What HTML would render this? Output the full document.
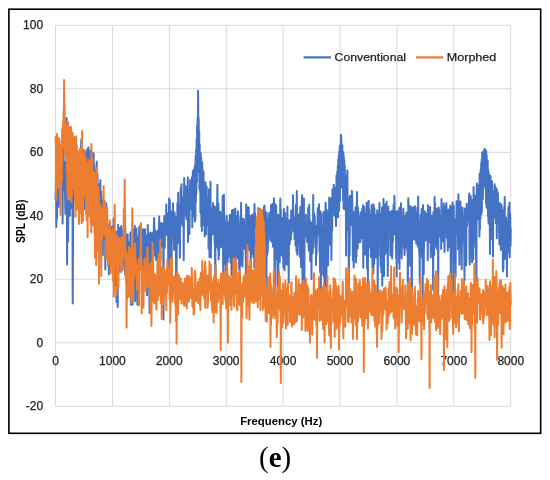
<!DOCTYPE html>
<html><head><meta charset="utf-8"><style>
html,body{margin:0;padding:0;background:#fff;}
body{width:550px;height:480px;overflow:hidden;position:relative;}
svg{position:absolute;left:0;top:0;}
.g line{stroke:#d9d9d9;stroke-width:1;}
.yl text{font-family:"Liberation Sans",sans-serif;font-size:12px;fill:#222;stroke:#222;stroke-width:0.25px;text-anchor:end;}
.xl text{font-family:"Liberation Sans",sans-serif;font-size:12px;fill:#222;stroke:#222;stroke-width:0.25px;text-anchor:middle;}
.lg{font-family:"Liberation Sans",sans-serif;font-size:11.3px;fill:#222;stroke:#222;stroke-width:0.25px;}
.at{font-family:"Liberation Sans",sans-serif;font-size:11.6px;font-weight:bold;fill:#000;}
.at2{font-family:"Liberation Sans",sans-serif;font-size:12px;font-weight:bold;fill:#000;}
.cap{font-family:"Liberation Serif",serif;font-size:29px;fill:#000;}
</style></head><body>
<svg width="550" height="480" viewBox="0 0 550 480">
<rect x="8.9" y="9.2" width="531.75" height="424.1" fill="#fff" stroke="#000" stroke-width="1.6"/>
<g class="g"><line x1="55.50" y1="25.30" x2="55.50" y2="406.30"/><line x1="112.41" y1="25.30" x2="112.41" y2="406.30"/><line x1="169.31" y1="25.30" x2="169.31" y2="406.30"/><line x1="226.22" y1="25.30" x2="226.22" y2="406.30"/><line x1="283.12" y1="25.30" x2="283.12" y2="406.30"/><line x1="340.03" y1="25.30" x2="340.03" y2="406.30"/><line x1="396.94" y1="25.30" x2="396.94" y2="406.30"/><line x1="453.84" y1="25.30" x2="453.84" y2="406.30"/><line x1="510.75" y1="25.30" x2="510.75" y2="406.30"/><line x1="55.50" y1="406.30" x2="510.75" y2="406.30"/><line x1="55.50" y1="342.80" x2="510.75" y2="342.80"/><line x1="55.50" y1="279.30" x2="510.75" y2="279.30"/><line x1="55.50" y1="215.80" x2="510.75" y2="215.80"/><line x1="55.50" y1="152.30" x2="510.75" y2="152.30"/><line x1="55.50" y1="88.80" x2="510.75" y2="88.80"/><line x1="55.50" y1="25.30" x2="510.75" y2="25.30"/></g>
<g class="yl"><text x="43.1" y="410.1">-20</text><text x="43.1" y="346.6">0</text><text x="43.1" y="283.1">20</text><text x="43.1" y="219.6">40</text><text x="43.1" y="156.1">60</text><text x="43.1" y="92.6">80</text><text x="43.1" y="29.1">100</text></g>
<g class="xl"><text x="55.5" y="364.5">0</text><text x="112.4" y="364.5">1000</text><text x="169.3" y="364.5">2000</text><text x="226.2" y="364.5">3000</text><text x="283.1" y="364.5">4000</text><text x="340.0" y="364.5">5000</text><text x="396.9" y="364.5">6000</text><text x="453.8" y="364.5">7000</text><text x="510.8" y="364.5">8000</text></g>
<polyline fill="none" stroke="#4472c4" stroke-width="2.0" stroke-linejoin="round" points="55.5,199.9 55.8,185.0 56.0,172.1 56.3,227.0 56.5,210.6 56.8,150.4 57.0,218.6 57.3,201.6 57.5,193.9 57.8,178.5 58.0,190.5 58.3,175.5 58.5,171.4 58.8,206.7 59.0,164.5 59.3,165.6 59.5,153.3 59.8,151.6 60.1,160.4 60.3,164.6 60.6,180.3 60.8,179.1 61.1,176.3 61.3,169.9 61.6,153.3 61.8,170.4 62.1,162.6 62.3,143.4 62.6,223.4 62.8,178.7 63.1,164.7 63.3,185.0 63.6,146.2 63.8,177.6 64.1,182.8 64.4,161.4 64.6,190.4 64.9,174.0 65.1,198.0 65.4,213.8 65.6,184.1 65.9,182.0 66.1,163.1 66.4,168.6 66.6,118.0 66.9,175.8 67.1,264.6 67.4,185.6 67.6,188.4 67.9,214.2 68.1,241.8 68.4,190.0 68.7,147.1 68.9,175.9 69.2,167.6 69.4,191.1 69.7,196.3 69.9,215.7 70.2,168.6 70.4,174.7 70.7,178.2 70.9,162.6 71.2,207.9 71.4,187.2 71.7,166.0 71.9,155.2 72.2,207.6 72.4,146.3 72.7,303.4 73.0,241.8 73.2,211.7 73.5,201.4 73.7,161.4 74.0,167.4 74.2,141.7 74.5,192.5 74.7,187.0 75.0,165.1 75.2,173.3 75.5,164.5 75.7,189.4 76.0,171.5 76.2,197.2 76.5,145.9 76.7,209.3 77.0,197.4 77.3,165.0 77.5,208.1 77.8,157.9 78.0,165.2 78.3,152.2 78.5,162.4 78.8,169.9 79.0,187.2 79.3,153.7 79.5,181.4 79.8,168.6 80.0,187.0 80.3,157.3 80.5,170.9 80.8,158.3 81.0,148.7 81.3,139.6 81.6,160.6 81.8,173.4 82.1,158.3 82.3,167.1 82.6,184.2 82.8,207.0 83.1,149.9 83.3,176.9 83.6,185.1 83.8,155.4 84.1,191.7 84.3,155.5 84.6,170.9 84.8,209.0 85.1,206.7 85.3,151.6 85.6,168.2 85.9,197.0 86.1,175.6 86.4,206.5 86.6,195.3 86.9,203.2 87.1,153.1 87.4,149.1 87.6,208.5 87.9,203.8 88.1,195.2 88.4,147.3 88.6,150.2 88.9,166.3 89.1,203.9 89.4,187.4 89.6,172.9 89.9,190.2 90.1,190.5 90.4,215.0 90.7,150.6 90.9,162.0 91.2,150.8 91.4,182.8 91.7,183.1 91.9,152.7 92.2,180.7 92.4,193.7 92.7,169.0 92.9,208.9 93.2,183.3 93.4,159.7 93.7,153.3 93.9,210.1 94.2,165.2 94.4,190.3 94.7,170.3 95.0,201.5 95.2,183.8 95.5,177.7 95.7,182.9 96.0,209.8 96.2,215.7 96.5,198.0 96.7,161.6 97.0,225.5 97.2,198.5 97.5,174.3 97.7,237.1 98.0,198.1 98.2,215.7 98.5,210.1 98.7,201.3 99.0,218.5 99.3,184.1 99.5,208.3 99.8,196.3 100.0,230.5 100.3,180.2 100.5,207.3 100.8,253.5 101.0,191.4 101.3,196.9 101.5,200.3 101.8,217.8 102.0,199.4 102.3,212.4 102.5,210.7 102.8,255.3 103.0,225.9 103.3,226.2 103.6,216.8 103.8,207.4 104.1,221.0 104.3,222.2 104.6,233.2 104.8,239.1 105.1,231.2 105.3,269.5 105.6,234.3 105.8,220.2 106.1,228.2 106.3,203.3 106.6,244.6 106.8,217.6 107.1,230.7 107.3,228.3 107.6,238.3 107.9,249.8 108.1,229.6 108.4,224.5 108.6,236.2 108.9,274.5 109.1,261.9 109.4,231.3 109.6,225.4 109.9,272.0 110.1,229.6 110.4,228.4 110.6,255.4 110.9,230.6 111.1,240.0 111.4,234.2 111.6,226.8 111.9,261.8 112.2,266.2 112.4,228.9 112.7,256.7 112.9,244.5 113.2,226.2 113.4,238.6 113.7,218.7 113.9,276.5 114.2,271.1 114.4,251.2 114.7,239.1 114.9,272.4 115.2,285.0 115.4,253.6 115.7,250.8 115.9,231.2 116.2,253.3 116.5,302.1 116.7,266.2 117.0,254.7 117.2,240.6 117.5,239.1 117.7,306.9 118.0,243.8 118.2,224.7 118.5,256.4 118.7,264.9 119.0,245.3 119.2,253.6 119.5,234.2 119.7,272.1 120.0,243.6 120.2,227.9 120.5,247.0 120.8,250.8 121.0,260.1 121.3,225.9 121.5,243.7 121.8,229.0 122.0,230.8 122.3,231.9 122.5,269.8 122.8,264.0 123.0,237.6 123.3,255.4 123.5,258.3 123.8,239.4 124.0,246.9 124.3,254.4 124.5,253.8 124.8,255.6 125.1,274.8 125.3,225.4 125.6,239.3 125.8,261.7 126.1,258.5 126.3,241.9 126.6,247.2 126.8,276.9 127.1,297.9 127.3,249.5 127.6,234.3 127.8,243.8 128.1,242.7 128.3,241.7 128.6,245.2 128.8,248.2 129.1,243.7 129.4,261.9 129.6,258.2 129.9,265.8 130.1,279.5 130.4,232.5 130.6,251.1 130.9,304.7 131.1,254.4 131.4,238.3 131.6,258.6 131.9,258.6 132.1,237.8 132.4,270.8 132.6,304.7 132.9,229.7 133.1,262.7 133.4,245.0 133.7,244.1 133.9,262.6 134.2,282.8 134.4,276.1 134.7,225.8 134.9,250.7 135.2,301.2 135.4,248.8 135.7,240.2 135.9,246.2 136.2,238.6 136.4,228.6 136.7,238.6 136.9,259.0 137.2,252.9 137.4,304.7 137.7,244.6 138.0,242.3 138.2,240.2 138.5,283.4 138.7,236.6 139.0,238.6 139.2,226.7 139.5,252.3 139.7,242.6 140.0,230.4 140.2,255.6 140.5,262.0 140.7,223.9 141.0,236.6 141.2,240.6 141.5,242.7 141.7,243.3 142.0,248.4 142.3,292.8 142.5,246.8 142.8,238.0 143.0,229.3 143.3,260.2 143.5,260.9 143.8,241.2 144.0,271.4 144.3,235.5 144.5,269.5 144.8,246.8 145.0,229.2 145.3,254.8 145.5,261.3 145.8,240.3 146.0,235.3 146.3,242.2 146.6,285.2 146.8,253.0 147.1,295.3 147.3,236.1 147.6,279.8 147.8,224.9 148.1,245.1 148.3,257.1 148.6,234.5 148.8,241.6 149.1,239.6 149.3,286.7 149.6,313.0 149.8,304.7 150.1,261.6 150.3,232.5 150.6,235.5 150.8,247.5 151.1,263.4 151.4,235.2 151.6,278.6 151.9,233.2 152.1,235.9 152.4,254.8 152.6,235.2 152.9,242.3 153.1,232.5 153.4,245.1 153.6,255.7 153.9,223.5 154.1,218.1 154.4,227.3 154.6,255.6 154.9,230.2 155.1,242.0 155.4,246.6 155.7,231.6 155.9,254.5 156.2,260.0 156.4,251.1 156.7,237.9 156.9,235.4 157.2,256.2 157.4,234.7 157.7,230.4 157.9,256.0 158.2,239.0 158.4,263.0 158.7,246.0 158.9,232.1 159.2,216.6 159.4,230.2 159.7,248.5 160.0,232.7 160.2,243.8 160.5,259.9 160.7,225.2 161.0,223.1 161.2,229.8 161.5,246.4 161.7,236.1 162.0,227.9 162.2,238.5 162.5,228.6 162.7,223.8 163.0,238.1 163.2,226.6 163.5,319.6 163.7,228.5 164.0,232.6 164.3,216.0 164.5,244.4 164.8,247.8 165.0,227.9 165.3,233.6 165.5,216.6 165.8,225.9 166.0,234.9 166.3,204.6 166.5,233.8 166.8,224.7 167.0,218.3 167.3,220.0 167.5,213.4 167.8,230.8 168.0,220.8 168.3,275.4 168.6,217.4 168.8,235.9 169.1,198.6 169.3,261.6 169.6,206.0 169.8,200.1 170.1,232.4 170.3,244.8 170.6,240.6 170.8,257.3 171.1,244.8 171.3,241.6 171.6,279.9 171.8,211.5 172.1,229.0 172.3,229.4 172.6,225.8 172.9,203.3 173.1,212.0 173.4,231.6 173.6,224.7 173.9,241.4 174.1,250.0 174.4,240.7 174.6,212.5 174.9,227.4 175.1,249.6 175.4,238.4 175.6,225.9 175.9,217.1 176.1,280.8 176.4,292.5 176.6,263.5 176.9,222.8 177.2,243.5 177.4,203.0 177.7,209.3 177.9,240.6 178.2,192.7 178.4,241.3 178.7,221.0 178.9,204.5 179.2,217.6 179.4,243.3 179.7,245.7 179.9,257.7 180.2,223.3 180.4,207.0 180.7,187.9 180.9,208.5 181.2,214.5 181.5,184.3 181.7,212.5 182.0,198.6 182.2,221.2 182.5,225.6 182.7,208.8 183.0,221.2 183.2,197.4 183.5,205.0 183.7,260.2 184.0,200.6 184.2,178.0 184.5,208.1 184.7,186.6 185.0,212.4 185.2,186.0 185.5,206.1 185.8,212.5 186.0,216.1 186.3,187.1 186.5,219.2 186.8,194.6 187.0,187.1 187.3,202.4 187.5,194.3 187.8,177.3 188.0,242.0 188.3,229.9 188.5,224.5 188.8,193.1 189.0,197.4 189.3,193.6 189.5,233.9 189.8,198.7 190.1,180.3 190.3,187.8 190.6,186.1 190.8,208.9 191.1,196.4 191.3,195.0 191.6,198.3 191.8,177.3 192.1,186.8 192.3,227.2 192.6,183.6 192.8,171.1 193.1,216.3 193.3,185.0 193.6,170.7 193.8,204.4 194.1,169.7 194.4,201.6 194.6,167.2 194.9,221.4 195.1,164.4 195.4,218.9 195.6,156.1 195.9,202.1 196.1,150.1 196.4,193.5 196.6,139.0 196.9,182.2 197.1,125.4 197.4,150.9 197.6,117.6 197.9,148.2 198.1,90.7 198.4,144.6 198.7,118.6 198.9,172.6 199.2,131.3 199.4,189.0 199.7,144.8 199.9,191.1 200.2,153.4 200.4,212.7 200.7,153.1 200.9,202.1 201.2,157.3 201.4,226.7 201.7,163.1 201.9,230.9 202.2,162.4 202.4,214.8 202.7,203.2 203.0,183.7 203.2,225.1 203.5,171.3 203.7,203.4 204.0,195.7 204.2,193.2 204.5,202.9 204.7,236.6 205.0,214.6 205.2,211.6 205.5,182.3 205.7,219.0 206.0,234.2 206.2,216.8 206.5,199.8 206.7,186.8 207.0,211.0 207.3,197.8 207.5,209.0 207.8,225.2 208.0,208.6 208.3,203.7 208.5,248.5 208.8,215.4 209.0,189.3 209.3,227.0 209.5,257.1 209.8,239.3 210.0,225.8 210.3,232.1 210.5,181.7 210.8,257.5 211.0,245.4 211.3,208.0 211.5,212.1 211.8,216.0 212.1,226.4 212.3,234.5 212.6,215.6 212.8,233.6 213.1,202.9 213.3,213.3 213.6,227.7 213.8,220.8 214.1,213.3 214.3,206.3 214.6,242.7 214.8,237.4 215.1,254.7 215.3,288.6 215.6,207.3 215.8,213.9 216.1,224.1 216.4,215.8 216.6,213.0 216.9,247.1 217.1,204.9 217.4,184.7 217.6,208.8 217.9,211.6 218.1,249.7 218.4,203.5 218.6,259.5 218.9,231.1 219.1,255.5 219.4,217.6 219.6,232.4 219.9,237.4 220.1,232.0 220.4,211.7 220.7,229.0 220.9,247.3 221.2,239.0 221.4,243.3 221.7,215.4 221.9,219.7 222.2,221.1 222.4,227.9 222.7,196.0 222.9,231.9 223.2,273.6 223.4,232.9 223.7,224.0 223.9,194.7 224.2,264.1 224.4,228.5 224.7,226.0 225.0,245.8 225.2,257.3 225.5,238.4 225.7,291.2 226.0,269.6 226.2,222.0 226.5,215.7 226.7,217.2 227.0,224.0 227.2,264.8 227.5,221.4 227.7,262.1 228.0,227.8 228.2,246.2 228.5,232.8 228.7,256.6 229.0,245.7 229.3,223.4 229.5,232.9 229.8,215.1 230.0,247.5 230.3,233.5 230.5,262.4 230.8,240.2 231.0,214.8 231.3,215.5 231.5,275.5 231.8,231.1 232.0,210.2 232.3,226.9 232.5,218.8 232.8,276.5 233.0,236.3 233.3,209.8 233.6,247.2 233.8,261.5 234.1,233.0 234.3,240.5 234.6,253.8 234.8,244.1 235.1,222.5 235.3,208.6 235.6,280.0 235.8,238.4 236.1,239.1 236.3,230.1 236.6,222.1 236.8,236.0 237.1,215.9 237.3,258.2 237.6,220.8 237.9,211.3 238.1,213.2 238.4,257.1 238.6,224.5 238.9,237.3 239.1,268.2 239.4,225.9 239.6,278.9 239.9,254.6 240.1,250.9 240.4,217.1 240.6,224.8 240.9,224.4 241.1,202.8 241.4,264.7 241.6,232.3 241.9,265.6 242.2,218.8 242.4,266.4 242.7,253.5 242.9,236.6 243.2,225.8 243.4,236.9 243.7,235.6 243.9,219.0 244.2,245.0 244.4,226.7 244.7,245.8 244.9,249.3 245.2,235.4 245.4,242.9 245.7,251.5 245.9,276.7 246.2,204.3 246.5,229.6 246.7,231.4 247.0,274.5 247.2,207.2 247.5,248.6 247.7,232.3 248.0,232.5 248.2,211.1 248.5,237.8 248.7,207.2 249.0,237.0 249.2,215.5 249.5,250.5 249.7,223.2 250.0,222.5 250.2,237.6 250.5,233.1 250.8,283.8 251.0,216.0 251.3,228.4 251.5,238.5 251.8,242.0 252.0,214.9 252.3,253.8 252.5,245.1 252.8,249.3 253.0,241.2 253.3,253.3 253.5,257.1 253.8,213.2 254.0,224.2 254.3,267.4 254.5,204.1 254.8,221.7 255.1,213.6 255.3,229.0 255.6,239.6 255.8,242.6 256.1,234.1 256.3,232.7 256.6,237.7 256.8,220.7 257.1,228.9 257.3,251.1 257.6,243.2 257.8,256.1 258.1,233.2 258.3,208.0 258.6,226.5 258.8,246.8 259.1,243.5 259.4,244.9 259.6,288.2 259.9,213.0 260.1,212.7 260.4,235.3 260.6,246.7 260.9,246.8 261.1,227.2 261.4,242.4 261.6,217.7 261.9,220.2 262.1,215.1 262.4,220.3 262.6,236.8 262.9,253.2 263.1,295.1 263.4,216.0 263.7,229.5 263.9,207.3 264.2,214.7 264.4,205.4 264.7,211.6 264.9,276.4 265.2,253.2 265.4,234.9 265.7,225.6 265.9,212.0 266.2,243.9 266.4,304.7 266.7,213.0 266.9,230.8 267.2,255.0 267.4,219.0 267.7,252.3 267.9,242.5 268.2,242.0 268.5,222.2 268.7,226.2 269.0,219.8 269.2,213.1 269.5,224.2 269.7,235.8 270.0,224.1 270.2,212.5 270.5,240.2 270.7,230.8 271.0,205.2 271.2,208.7 271.5,231.7 271.7,225.9 272.0,242.2 272.2,231.8 272.5,203.7 272.8,216.1 273.0,246.7 273.3,206.8 273.5,225.7 273.8,237.7 274.0,198.3 274.3,243.1 274.5,269.5 274.8,304.7 275.0,229.4 275.3,204.5 275.5,212.8 275.8,259.6 276.0,205.3 276.3,215.6 276.5,222.0 276.8,222.6 277.1,247.0 277.3,229.3 277.6,304.7 277.8,282.0 278.1,214.8 278.3,284.2 278.6,215.8 278.8,232.5 279.1,222.1 279.3,249.7 279.6,243.5 279.8,262.1 280.1,225.8 280.3,198.6 280.6,221.2 280.8,209.7 281.1,250.6 281.4,234.4 281.6,255.2 281.9,224.0 282.1,218.1 282.4,243.7 282.6,225.1 282.9,257.7 283.1,237.4 283.4,267.5 283.6,228.9 283.9,208.9 284.1,223.9 284.4,261.4 284.6,270.2 284.9,221.9 285.1,213.0 285.4,247.0 285.7,253.3 285.9,261.0 286.2,219.0 286.4,227.8 286.7,264.5 286.9,222.1 287.2,256.2 287.4,206.5 287.7,247.8 287.9,232.1 288.2,228.8 288.4,229.6 288.7,283.1 288.9,242.0 289.2,237.8 289.4,219.9 289.7,244.3 290.0,234.2 290.2,227.1 290.5,230.9 290.7,222.2 291.0,239.4 291.2,210.4 291.5,233.4 291.7,223.7 292.0,221.7 292.2,213.7 292.5,225.9 292.7,226.3 293.0,195.3 293.2,213.9 293.5,227.5 293.7,231.1 294.0,231.3 294.3,219.9 294.5,239.3 294.8,222.8 295.0,218.4 295.3,217.3 295.5,245.5 295.8,209.7 296.0,204.6 296.3,210.6 296.5,251.7 296.8,191.0 297.0,243.6 297.3,254.8 297.5,241.3 297.8,223.8 298.0,242.5 298.3,223.8 298.6,233.6 298.8,214.7 299.1,223.2 299.3,213.9 299.6,246.4 299.8,256.8 300.1,228.1 300.3,207.0 300.6,216.7 300.8,211.5 301.1,267.2 301.3,223.9 301.6,236.0 301.8,205.4 302.1,195.3 302.3,256.4 302.6,290.1 302.9,219.7 303.1,222.5 303.4,212.5 303.6,228.3 303.9,198.5 304.1,304.7 304.4,280.3 304.6,223.9 304.9,225.4 305.1,228.9 305.4,219.5 305.6,230.6 305.9,214.7 306.1,234.7 306.4,236.9 306.6,234.2 306.9,225.5 307.2,241.9 307.4,237.0 307.7,238.5 307.9,230.1 308.2,208.0 308.4,230.1 308.7,250.6 308.9,218.3 309.2,204.8 309.4,229.1 309.7,219.6 309.9,229.3 310.2,261.3 310.4,257.9 310.7,222.0 310.9,232.4 311.2,244.8 311.5,279.0 311.7,225.5 312.0,250.5 312.2,222.3 312.5,240.9 312.7,253.2 313.0,241.7 313.2,195.1 313.5,247.4 313.7,242.1 314.0,221.2 314.2,213.2 314.5,232.5 314.7,216.3 315.0,232.4 315.2,237.1 315.5,225.8 315.8,233.3 316.0,264.9 316.3,239.4 316.5,254.8 316.8,243.9 317.0,231.7 317.3,236.0 317.5,221.2 317.8,208.1 318.0,223.1 318.3,219.4 318.5,222.1 318.8,233.4 319.0,204.2 319.3,216.6 319.5,250.8 319.8,251.8 320.1,272.3 320.3,221.7 320.6,211.4 320.8,304.7 321.1,219.8 321.3,213.7 321.6,274.7 321.8,244.6 322.1,265.1 322.3,227.5 322.6,232.2 322.8,226.9 323.1,251.4 323.3,259.0 323.6,211.9 323.8,276.8 324.1,251.2 324.4,256.9 324.6,304.7 324.9,228.9 325.1,233.2 325.4,227.2 325.6,202.8 325.9,213.2 326.1,229.4 326.4,296.6 326.6,237.7 326.9,210.2 327.1,225.0 327.4,223.8 327.6,238.1 327.9,226.4 328.1,265.4 328.4,241.8 328.6,213.3 328.9,229.3 329.2,197.6 329.4,214.1 329.7,221.1 329.9,216.8 330.2,244.4 330.4,231.2 330.7,226.0 330.9,222.1 331.2,198.3 331.4,260.1 331.7,224.3 331.9,210.5 332.2,230.8 332.4,189.6 332.7,215.4 332.9,196.7 333.2,213.7 333.5,199.6 333.7,184.8 334.0,209.4 334.2,214.4 334.5,203.8 334.7,203.7 335.0,216.1 335.2,187.7 335.5,190.0 335.7,209.3 336.0,225.9 336.2,209.8 336.5,175.6 336.7,179.0 337.0,197.7 337.2,171.8 337.5,213.3 337.8,165.5 338.0,217.2 338.3,159.2 338.5,190.0 338.8,154.5 339.0,210.8 339.3,150.7 339.5,181.6 339.8,145.7 340.0,200.5 340.3,149.0 340.5,185.5 340.8,143.6 341.0,134.8 341.3,138.5 341.5,187.6 341.8,144.5 342.1,180.7 342.3,145.6 342.6,178.6 342.8,155.4 343.1,200.4 343.3,152.0 343.6,208.6 343.8,156.3 344.1,209.3 344.3,160.6 344.6,208.3 344.8,165.7 345.1,204.6 345.3,188.4 345.6,201.6 345.8,184.8 346.1,255.5 346.4,176.3 346.6,198.7 346.9,186.7 347.1,176.5 347.4,170.2 347.6,220.3 347.9,229.8 348.1,198.8 348.4,198.6 348.6,248.8 348.9,290.9 349.1,220.4 349.4,202.0 349.6,255.4 349.9,195.8 350.1,218.5 350.4,204.2 350.7,207.9 350.9,220.4 351.2,224.7 351.4,220.1 351.7,215.0 351.9,190.8 352.2,194.9 352.4,221.3 352.7,235.7 352.9,260.4 353.2,232.6 353.4,212.1 353.7,267.4 353.9,225.7 354.2,248.6 354.4,230.6 354.7,234.4 355.0,218.2 355.2,236.6 355.5,207.4 355.7,252.1 356.0,262.5 356.2,239.6 356.5,256.5 356.7,218.1 357.0,192.0 357.2,237.4 357.5,211.7 357.7,248.4 358.0,207.2 358.2,218.1 358.5,221.3 358.7,232.7 359.0,231.0 359.3,216.7 359.5,223.7 359.8,242.6 360.0,220.4 360.3,242.0 360.5,212.6 360.8,212.3 361.0,233.0 361.3,218.1 361.5,238.3 361.8,214.1 362.0,214.6 362.3,208.5 362.5,208.2 362.8,215.1 363.0,205.2 363.3,267.8 363.6,211.4 363.8,250.6 364.1,207.1 364.3,220.5 364.6,218.0 364.8,224.2 365.1,254.4 365.3,216.0 365.6,213.7 365.8,217.3 366.1,254.6 366.3,218.3 366.6,202.8 366.8,228.0 367.1,268.8 367.3,247.1 367.6,233.0 367.9,282.7 368.1,215.7 368.4,246.2 368.6,200.7 368.9,229.7 369.1,209.1 369.4,214.3 369.6,247.6 369.9,247.4 370.1,215.6 370.4,232.4 370.6,240.0 370.9,256.9 371.1,226.5 371.4,240.9 371.6,205.3 371.9,233.5 372.2,207.5 372.4,267.6 372.7,223.8 372.9,235.8 373.2,204.2 373.4,273.6 373.7,204.9 373.9,231.0 374.2,263.9 374.4,208.2 374.7,251.0 374.9,226.0 375.2,223.1 375.4,241.3 375.7,215.0 375.9,250.5 376.2,257.7 376.5,247.8 376.7,232.1 377.0,237.6 377.2,210.3 377.5,226.0 377.7,292.4 378.0,231.8 378.2,255.9 378.5,214.1 378.7,219.0 379.0,214.8 379.2,225.3 379.5,202.9 379.7,230.8 380.0,229.4 380.2,227.5 380.5,265.8 380.8,222.0 381.0,213.6 381.3,272.6 381.5,221.4 381.8,239.5 382.0,207.4 382.3,285.7 382.5,241.6 382.8,242.2 383.0,230.4 383.3,245.2 383.5,198.9 383.8,251.6 384.0,275.9 384.3,232.1 384.5,205.8 384.8,235.5 385.1,204.6 385.3,254.3 385.6,232.5 385.8,252.0 386.1,236.7 386.3,237.1 386.6,201.7 386.8,239.3 387.1,251.2 387.3,224.8 387.6,250.3 387.8,276.0 388.1,225.2 388.3,206.7 388.6,228.6 388.8,215.2 389.1,225.9 389.4,216.3 389.6,227.8 389.9,212.1 390.1,233.7 390.4,255.6 390.6,222.7 390.9,216.4 391.1,232.2 391.4,211.3 391.6,221.9 391.9,210.8 392.1,258.5 392.4,251.2 392.6,225.5 392.9,241.9 393.1,211.7 393.4,218.9 393.6,204.5 393.9,226.9 394.2,223.3 394.4,195.7 394.7,213.5 394.9,234.6 395.2,217.3 395.4,211.8 395.7,223.4 395.9,225.6 396.2,258.8 396.4,217.3 396.7,276.6 396.9,211.0 397.2,233.7 397.4,247.6 397.7,225.1 397.9,221.8 398.2,222.1 398.5,211.9 398.7,236.6 399.0,262.9 399.2,208.2 399.5,269.1 399.7,224.2 400.0,252.4 400.2,225.8 400.5,206.6 400.7,244.6 401.0,203.3 401.2,243.4 401.5,237.3 401.7,258.5 402.0,225.2 402.2,224.4 402.5,243.9 402.8,229.5 403.0,224.9 403.3,208.8 403.5,213.6 403.8,242.6 404.0,248.1 404.3,220.5 404.5,255.0 404.8,250.8 405.0,216.0 405.3,247.2 405.5,231.0 405.8,229.2 406.0,233.3 406.3,213.1 406.5,221.3 406.8,212.6 407.1,249.4 407.3,240.3 407.6,219.6 407.8,304.1 408.1,236.5 408.3,198.3 408.6,231.5 408.8,237.1 409.1,205.5 409.3,213.1 409.6,205.9 409.8,218.8 410.1,265.7 410.3,218.7 410.6,260.5 410.8,206.7 411.1,232.5 411.4,239.1 411.6,279.6 411.9,304.7 412.1,225.5 412.4,213.9 412.6,228.6 412.9,207.2 413.1,226.9 413.4,238.7 413.6,218.3 413.9,238.0 414.1,229.3 414.4,239.4 414.6,228.1 414.9,206.3 415.1,226.9 415.4,239.8 415.7,207.6 415.9,224.4 416.2,243.6 416.4,223.3 416.7,216.0 416.9,230.8 417.2,212.3 417.4,215.7 417.7,246.6 417.9,231.9 418.2,196.6 418.4,220.7 418.7,233.4 418.9,237.9 419.2,252.8 419.4,225.8 419.7,283.6 420.0,229.0 420.2,222.4 420.5,222.7 420.7,214.8 421.0,256.7 421.2,222.8 421.5,214.8 421.7,208.9 422.0,238.5 422.2,212.8 422.5,234.6 422.7,303.4 423.0,204.9 423.2,217.6 423.5,211.1 423.7,274.1 424.0,237.7 424.3,214.4 424.5,215.4 424.8,211.3 425.0,224.7 425.3,217.3 425.5,240.7 425.8,234.0 426.0,213.7 426.3,230.5 426.5,219.8 426.8,216.3 427.0,213.5 427.3,218.4 427.5,228.2 427.8,260.3 428.0,205.2 428.3,236.2 428.6,242.1 428.8,237.2 429.1,211.7 429.3,207.8 429.6,241.0 429.8,238.8 430.1,207.0 430.3,227.2 430.6,243.7 430.8,257.5 431.1,222.5 431.3,233.9 431.6,215.7 431.8,252.3 432.1,232.3 432.3,223.6 432.6,223.4 432.9,233.1 433.1,289.7 433.4,212.2 433.6,229.2 433.9,229.4 434.1,255.5 434.4,224.4 434.6,197.1 434.9,232.9 435.1,203.4 435.4,246.8 435.6,239.7 435.9,229.5 436.1,211.7 436.4,209.6 436.6,228.6 436.9,224.1 437.2,249.3 437.4,208.5 437.7,240.5 437.9,210.2 438.2,304.7 438.4,226.2 438.7,207.6 438.9,222.4 439.2,210.1 439.4,230.6 439.7,229.9 439.9,220.0 440.2,223.1 440.4,236.9 440.7,235.3 440.9,216.2 441.2,248.9 441.5,199.0 441.7,218.7 442.0,241.1 442.2,214.4 442.5,235.9 442.7,218.6 443.0,215.7 443.2,241.5 443.5,226.9 443.7,203.6 444.0,219.9 444.2,206.7 444.5,251.9 444.7,233.9 445.0,218.0 445.2,212.3 445.5,225.4 445.8,205.9 446.0,219.1 446.3,203.1 446.5,216.9 446.8,237.9 447.0,229.7 447.3,218.2 447.5,230.3 447.8,250.8 448.0,223.7 448.3,209.6 448.5,240.1 448.8,232.2 449.0,228.2 449.3,247.0 449.5,238.9 449.8,242.5 450.1,208.7 450.3,205.8 450.6,222.8 450.8,287.2 451.1,257.8 451.3,206.5 451.6,230.1 451.8,224.0 452.1,229.4 452.3,243.3 452.6,202.5 452.8,208.4 453.1,210.4 453.3,304.7 453.6,205.4 453.8,207.9 454.1,250.8 454.3,229.5 454.6,260.7 454.9,247.2 455.1,228.9 455.4,244.4 455.6,276.8 455.9,219.1 456.1,223.2 456.4,220.2 456.6,201.3 456.9,223.7 457.1,234.7 457.4,212.3 457.6,226.7 457.9,222.8 458.1,249.4 458.4,194.3 458.6,216.3 458.9,229.9 459.2,225.8 459.4,264.7 459.7,228.2 459.9,217.9 460.2,217.8 460.4,201.5 460.7,230.5 460.9,224.5 461.2,230.7 461.4,217.7 461.7,269.2 461.9,243.5 462.2,213.2 462.4,207.5 462.7,241.7 462.9,216.0 463.2,224.6 463.5,233.2 463.7,239.4 464.0,225.9 464.2,245.3 464.5,280.8 464.7,208.4 465.0,218.0 465.2,235.6 465.5,253.3 465.7,209.2 466.0,222.0 466.2,265.6 466.5,211.9 466.7,203.7 467.0,225.9 467.2,216.5 467.5,221.1 467.8,219.2 468.0,209.9 468.3,222.0 468.5,212.7 468.8,213.8 469.0,196.0 469.3,193.5 469.5,257.7 469.8,264.4 470.0,237.9 470.3,240.1 470.5,223.1 470.8,196.2 471.0,245.4 471.3,248.4 471.5,226.7 471.8,248.9 472.1,262.3 472.3,200.2 472.6,219.4 472.8,206.3 473.1,226.9 473.3,259.5 473.6,187.1 473.8,247.1 474.1,222.0 474.3,195.0 474.6,216.4 474.8,210.0 475.1,211.6 475.3,208.0 475.6,196.0 475.8,211.9 476.1,260.9 476.4,284.1 476.6,206.5 476.9,183.5 477.1,212.9 477.4,219.4 477.6,205.2 477.9,199.7 478.1,185.5 478.4,198.1 478.6,189.5 478.9,196.9 479.1,199.2 479.4,236.5 479.6,173.5 479.9,229.4 480.1,174.8 480.4,218.9 480.7,169.4 480.9,210.7 481.2,163.4 481.4,214.1 481.7,159.2 481.9,212.0 482.2,152.6 482.4,190.0 482.7,156.1 482.9,199.0 483.2,152.1 483.4,186.4 483.7,150.9 483.9,173.8 484.2,154.5 484.4,149.1 484.7,152.4 485.0,185.6 485.2,149.6 485.5,188.8 485.7,152.5 486.0,203.3 486.2,150.7 486.5,207.8 486.7,155.2 487.0,206.6 487.2,163.3 487.5,200.0 487.7,160.6 488.0,216.2 488.2,169.7 488.5,223.6 488.7,172.7 489.0,219.7 489.3,205.4 489.5,175.3 489.8,220.7 490.0,253.9 490.3,185.7 490.5,176.1 490.8,186.7 491.0,188.7 491.3,196.9 491.5,209.8 491.8,239.3 492.0,181.2 492.3,207.3 492.5,190.9 492.8,204.9 493.0,256.5 493.3,203.6 493.6,201.5 493.8,197.1 494.1,217.6 494.3,204.5 494.6,184.2 494.8,209.6 495.1,197.7 495.3,186.5 495.6,191.1 495.8,223.0 496.1,213.1 496.3,204.6 496.6,188.8 496.8,238.2 497.1,191.3 497.3,212.0 497.6,210.9 497.9,193.0 498.1,218.6 498.4,219.6 498.6,221.8 498.9,211.2 499.1,230.1 499.4,244.3 499.6,207.9 499.9,202.9 500.1,219.3 500.4,210.5 500.6,213.6 500.9,250.0 501.1,226.4 501.4,217.2 501.6,204.8 501.9,221.2 502.2,209.4 502.4,218.8 502.7,226.5 502.9,271.6 503.2,245.9 503.4,268.9 503.7,227.3 503.9,255.9 504.2,206.9 504.4,242.3 504.7,197.1 504.9,239.4 505.2,258.8 505.4,256.0 505.7,234.0 505.9,217.4 506.2,222.6 506.5,244.9 506.7,247.4 507.0,276.6 507.2,243.7 507.5,245.8 507.7,252.8 508.0,224.6 508.2,220.7 508.5,207.0 508.7,250.5 509.0,214.8 509.2,225.6 509.5,202.7 509.7,257.3 510.0,212.9 510.2,217.4 510.5,246.0 510.8,228.5"/>
<polyline fill="none" stroke="#ed7d31" stroke-width="2.0" stroke-linejoin="round" points="55.5,142.8 55.8,136.4 56.0,196.1 56.3,199.6 56.5,158.5 56.8,176.8 57.0,133.9 57.3,162.9 57.5,146.7 57.8,153.1 58.0,138.3 58.3,187.9 58.5,138.3 58.8,179.9 59.0,137.9 59.3,171.1 59.5,140.0 59.8,183.2 60.1,149.2 60.3,179.8 60.6,214.6 60.8,193.9 61.1,145.1 61.3,170.0 61.6,146.8 61.8,181.8 62.1,129.8 62.3,162.7 62.6,127.9 62.8,148.1 63.1,122.3 63.3,143.4 63.6,109.7 63.8,135.0 64.1,79.9 64.4,139.8 64.6,103.9 64.9,149.9 65.1,118.8 65.4,155.4 65.6,121.9 65.9,154.0 66.1,129.7 66.4,158.2 66.6,134.8 66.9,172.3 67.1,127.1 67.4,193.3 67.6,139.3 67.9,199.6 68.1,122.1 68.4,181.8 68.7,155.1 68.9,186.8 69.2,127.0 69.4,199.4 69.7,136.8 69.9,141.3 70.2,132.6 70.4,188.8 70.7,128.5 70.9,185.0 71.2,126.9 71.4,202.1 71.7,132.6 71.9,194.9 72.2,161.0 72.4,189.9 72.7,133.0 73.0,181.2 73.2,141.8 73.5,187.8 73.7,140.3 74.0,187.8 74.2,137.3 74.5,155.2 74.7,142.0 75.0,202.4 75.2,141.6 75.5,216.8 75.7,144.8 76.0,201.7 76.2,136.2 76.5,202.0 76.7,145.5 77.0,209.5 77.3,152.4 77.5,203.6 77.8,156.0 78.0,199.1 78.3,151.5 78.5,205.5 78.8,158.3 79.0,223.9 79.3,181.2 79.5,198.1 79.8,150.2 80.0,148.4 80.3,154.7 80.5,206.2 80.8,152.1 81.0,213.3 81.3,153.7 81.6,223.3 81.8,170.5 82.1,130.9 82.3,172.5 82.6,205.3 82.8,156.4 83.1,221.1 83.3,155.1 83.6,174.4 83.8,155.9 84.1,191.0 84.3,167.1 84.6,150.2 84.8,165.6 85.1,194.7 85.3,160.5 85.6,198.7 85.9,158.4 86.1,214.5 86.4,166.4 86.6,220.2 86.9,163.6 87.1,195.3 87.4,164.9 87.6,237.2 87.9,162.8 88.1,212.1 88.4,161.2 88.6,206.6 88.9,164.1 89.1,208.4 89.4,160.1 89.6,216.3 89.9,197.3 90.1,195.5 90.4,198.9 90.7,224.0 90.9,176.4 91.2,232.3 91.4,144.1 91.7,219.0 91.9,171.3 92.2,216.9 92.4,158.0 92.7,225.3 92.9,185.2 93.2,206.0 93.4,178.1 93.7,188.0 93.9,171.4 94.2,218.6 94.4,232.9 94.7,211.3 95.0,257.4 95.2,180.4 95.5,173.3 95.7,209.5 96.0,194.5 96.2,264.9 96.5,202.9 96.7,168.3 97.0,230.3 97.2,181.7 97.5,210.1 97.7,217.5 98.0,251.1 98.2,218.4 98.5,187.5 98.7,191.6 99.0,283.7 99.3,210.0 99.5,247.4 99.8,205.4 100.0,204.1 100.3,205.6 100.5,215.7 100.8,248.2 101.0,211.4 101.3,276.0 101.5,213.9 101.8,208.2 102.0,208.5 102.3,238.6 102.5,226.3 102.8,226.3 103.0,208.9 103.3,218.2 103.6,185.9 103.8,219.9 104.1,215.7 104.3,226.9 104.6,234.5 104.8,201.3 105.1,236.2 105.3,207.5 105.6,216.5 105.8,221.7 106.1,236.4 106.3,258.5 106.6,248.9 106.8,233.9 107.1,207.5 107.3,222.5 107.6,237.1 107.9,265.8 108.1,244.6 108.4,263.9 108.6,239.1 108.9,234.8 109.1,227.9 109.4,238.7 109.6,237.6 109.9,220.4 110.1,234.7 110.4,247.2 110.6,273.3 110.9,243.6 111.1,232.5 111.4,233.5 111.6,235.7 111.9,238.2 112.2,261.4 112.4,229.1 112.7,253.1 112.9,280.7 113.2,265.9 113.4,244.7 113.7,258.8 113.9,296.7 114.2,263.3 114.4,238.5 114.7,204.6 114.9,239.1 115.2,266.4 115.4,256.2 115.7,241.7 115.9,247.8 116.2,235.5 116.5,265.7 116.7,294.6 117.0,235.2 117.2,256.0 117.5,237.6 117.7,241.4 118.0,251.1 118.2,243.4 118.5,287.2 118.7,254.4 119.0,243.0 119.2,262.1 119.5,237.9 119.7,240.0 120.0,260.1 120.2,242.7 120.5,264.5 120.8,254.3 121.0,239.5 121.3,272.2 121.5,236.9 121.8,268.6 122.0,247.8 122.3,255.1 122.5,261.7 122.8,253.3 123.0,257.8 123.3,255.8 123.5,239.8 123.8,208.7 124.0,234.5 124.3,243.8 124.5,205.3 124.7,179.8 125.1,235.7 125.3,252.9 125.6,273.4 125.8,280.4 126.1,250.6 126.3,270.0 126.6,327.4 126.8,274.1 127.1,254.1 127.3,275.7 127.6,269.6 127.8,285.5 128.1,262.6 128.3,264.7 128.6,281.3 128.8,296.7 129.1,246.8 129.4,247.4 129.6,258.4 129.9,249.1 130.1,270.8 130.4,295.1 130.6,252.3 130.9,264.4 131.1,264.2 131.4,302.9 131.6,258.2 131.9,253.1 132.1,231.8 132.3,208.3 132.6,243.4 132.9,248.3 133.1,300.7 133.4,268.9 133.7,273.5 133.9,278.7 134.2,275.6 134.4,257.2 134.7,272.2 134.9,265.5 135.2,243.7 135.4,266.8 135.7,261.3 135.9,260.2 136.2,271.7 136.4,276.5 136.7,278.6 136.9,285.9 137.2,289.7 137.4,270.5 137.7,278.4 138.0,268.0 138.2,264.6 138.5,268.2 138.7,258.9 139.0,305.5 139.2,272.8 139.5,261.0 139.7,264.6 140.0,265.0 140.2,269.9 140.5,258.4 140.9,223.0 141.0,234.8 141.2,256.3 141.5,261.7 141.7,313.6 142.0,282.3 142.3,266.6 142.5,282.3 142.8,292.3 143.0,271.3 143.3,290.0 143.5,307.4 143.8,273.4 144.0,273.0 144.3,281.0 144.5,260.4 144.8,258.5 145.0,262.9 145.3,279.4 145.5,272.4 145.8,291.2 146.0,268.0 146.3,282.8 146.6,277.4 146.8,280.5 147.1,280.1 147.3,247.6 147.6,251.3 147.8,287.1 148.1,264.2 148.3,284.8 148.6,264.7 148.8,280.1 149.1,284.6 149.3,273.7 149.6,272.2 149.8,271.2 150.1,282.9 150.3,293.9 150.6,313.2 150.8,262.6 151.1,289.4 151.4,326.0 151.6,300.0 151.9,263.6 152.1,270.6 152.4,273.9 152.6,242.8 152.9,275.5 153.1,249.8 153.4,300.7 153.6,276.3 153.9,283.8 154.1,302.2 154.4,303.6 154.6,287.1 154.9,274.3 155.1,296.6 155.4,286.6 155.7,278.9 155.9,276.2 156.2,299.7 156.4,309.8 156.7,302.0 156.9,284.6 157.2,280.9 157.4,260.6 157.7,271.6 157.9,300.0 158.2,270.9 158.4,287.3 158.7,254.1 158.9,286.4 159.2,261.4 159.4,258.6 159.7,294.2 160.0,295.5 160.2,239.4 160.5,275.6 160.7,279.1 161.0,303.2 161.2,285.1 161.5,267.4 161.7,319.0 162.0,307.3 162.2,268.2 162.5,292.8 162.7,288.1 163.0,266.5 163.2,302.9 163.5,304.0 163.7,267.2 164.0,297.9 164.3,285.4 164.5,281.8 164.8,293.0 165.0,294.2 165.3,290.4 165.5,294.3 165.8,271.8 166.0,279.1 166.3,310.0 166.5,269.2 166.8,270.8 167.0,292.2 167.3,259.3 167.5,264.8 167.8,269.5 168.0,274.2 168.3,284.4 168.6,268.4 168.8,273.8 169.1,280.0 169.3,281.2 169.6,299.3 169.8,297.3 170.1,259.5 170.3,322.7 170.6,294.2 170.8,276.0 171.1,278.6 171.3,266.4 171.6,276.5 171.8,257.7 172.1,286.3 172.3,301.4 172.6,281.5 172.9,287.5 173.1,288.4 173.4,293.9 173.6,276.4 173.9,286.4 174.1,292.8 174.4,276.8 174.6,291.5 174.9,302.1 175.1,277.2 175.4,305.4 175.6,287.4 175.9,321.2 176.1,283.6 176.4,281.3 176.6,343.8 176.9,296.4 177.2,271.3 177.4,303.9 177.7,280.4 177.9,295.4 178.2,314.6 178.4,295.7 178.7,276.4 178.9,275.0 179.2,288.1 179.4,295.8 179.7,290.2 179.9,298.7 180.2,294.7 180.4,288.0 180.7,278.6 180.9,289.0 181.2,298.6 181.5,303.4 181.7,303.6 182.0,283.0 182.2,290.4 182.5,298.0 182.7,290.8 183.0,294.9 183.2,283.4 183.5,287.0 183.7,291.3 184.0,305.8 184.2,294.0 184.5,292.6 184.7,294.2 185.0,278.4 185.2,305.5 185.5,297.3 185.8,287.0 186.0,278.8 186.3,280.3 186.5,280.0 186.8,308.2 187.0,275.8 187.3,285.4 187.5,289.9 187.8,301.3 188.0,283.5 188.3,290.8 188.5,275.9 188.8,277.5 189.0,301.8 189.3,285.2 189.5,295.1 189.8,277.5 190.1,279.6 190.3,288.1 190.6,297.2 190.8,295.3 191.1,298.1 191.3,283.4 191.6,277.4 191.8,268.0 192.1,294.1 192.3,303.8 192.6,306.8 192.8,289.3 193.1,291.7 193.3,289.1 193.6,314.6 193.8,300.0 194.1,313.9 194.4,282.2 194.6,284.6 194.9,270.7 195.1,292.6 195.4,273.0 195.6,292.5 195.9,288.4 196.1,300.9 196.4,292.0 196.6,286.8 196.9,292.8 197.1,295.8 197.4,299.2 197.6,288.5 197.9,281.7 198.1,302.9 198.4,283.5 198.7,297.1 198.9,300.2 199.2,292.2 199.4,299.7 199.7,278.6 199.9,305.6 200.2,298.3 200.4,310.0 200.7,281.5 200.9,272.8 201.2,272.8 201.4,285.8 201.7,295.3 201.9,293.8 202.2,261.0 202.4,287.2 202.7,274.3 203.0,286.6 203.2,278.4 203.5,293.0 203.7,271.7 204.0,294.7 204.2,298.7 204.5,287.8 204.7,284.7 205.0,261.7 205.2,307.7 205.5,266.4 205.7,282.4 206.0,283.3 206.2,283.3 206.5,286.1 206.7,294.0 207.0,285.9 207.3,275.5 207.5,307.9 207.8,301.3 208.0,303.3 208.3,290.8 208.5,292.7 208.8,289.8 209.0,283.2 209.3,270.6 209.5,261.6 209.8,289.5 210.0,285.8 210.3,282.8 210.5,264.3 210.8,265.5 211.0,300.8 211.3,282.4 211.5,280.9 211.8,281.6 212.1,310.1 212.3,296.5 212.6,312.5 212.8,292.1 213.1,302.5 213.3,283.4 213.6,322.6 213.8,277.3 214.1,286.7 214.3,275.8 214.6,291.9 214.8,312.2 215.1,291.0 215.3,273.7 215.6,282.0 215.8,265.2 216.1,294.5 216.4,309.8 216.6,312.7 216.9,297.9 217.1,295.5 217.4,285.5 217.6,283.5 217.9,302.0 218.1,285.2 218.4,279.7 218.6,284.6 218.9,287.8 219.1,298.0 219.4,285.0 219.6,296.0 219.9,286.9 220.1,284.1 220.4,304.5 220.7,350.3 220.9,277.6 221.2,273.8 221.4,273.5 221.7,297.3 221.9,284.7 222.2,300.2 222.4,278.6 222.7,304.0 222.9,272.7 223.2,281.5 223.4,287.7 223.7,285.1 223.9,293.6 224.2,280.3 224.4,291.4 224.7,292.0 225.0,271.5 225.2,297.8 225.5,300.3 225.7,295.1 226.0,274.4 226.2,308.3 226.5,297.6 226.7,308.5 227.0,288.9 227.2,263.3 227.5,310.4 227.7,286.5 228.0,342.8 228.2,275.0 228.5,299.8 228.7,299.0 229.0,277.8 229.3,287.9 229.5,296.4 229.8,282.0 230.0,277.3 230.3,305.2 230.5,296.0 230.8,277.9 231.0,298.8 231.3,279.4 231.5,309.7 231.8,296.2 232.0,291.1 232.3,279.7 232.5,291.0 232.8,275.3 233.0,295.5 233.3,258.7 233.6,260.8 233.8,285.4 234.1,306.4 234.3,292.0 234.6,294.0 234.8,291.7 235.1,290.7 235.3,265.3 235.6,257.5 235.8,285.5 236.1,267.6 236.3,262.5 236.6,293.0 236.8,297.4 237.1,306.6 237.3,310.5 237.6,299.0 237.9,287.0 238.1,299.9 238.4,293.3 238.6,272.7 238.9,298.3 239.1,302.7 239.4,284.6 239.6,305.1 239.9,270.9 240.1,302.9 240.4,289.9 240.6,303.1 240.9,300.2 241.1,295.8 241.4,381.9 241.6,285.7 241.9,305.3 242.2,317.8 242.4,283.0 242.7,299.8 242.9,302.0 243.2,293.0 243.4,291.7 243.7,276.5 243.9,291.9 244.2,282.8 244.4,281.0 244.7,279.9 244.9,296.9 245.2,274.1 245.4,285.5 245.7,286.4 245.9,278.4 246.2,275.3 246.5,318.0 246.7,303.8 247.0,276.2 247.2,286.0 247.5,244.9 247.7,295.5 248.0,289.4 248.2,304.5 248.5,296.1 248.7,266.5 249.0,286.6 249.2,307.4 249.5,319.7 249.7,280.0 250.0,294.5 250.2,296.0 250.5,260.0 250.8,280.3 251.0,281.9 251.3,295.7 251.5,300.3 251.8,302.4 252.0,276.4 252.3,291.5 252.5,294.9 252.8,280.9 253.0,270.0 253.3,272.3 253.5,288.7 253.8,299.7 254.0,303.1 254.3,277.1 254.5,301.0 254.8,284.9 255.1,280.6 255.3,272.2 255.6,246.5 255.8,281.3 256.1,227.3 256.3,301.2 256.6,218.8 256.8,296.6 257.1,216.9 257.3,282.8 257.6,216.5 257.8,307.2 258.1,215.0 258.3,300.3 258.6,214.6 258.8,292.1 259.1,209.6 259.4,267.3 259.6,209.4 259.9,281.1 260.1,208.8 260.4,310.0 260.6,209.4 260.9,265.3 261.1,209.7 261.4,288.4 261.6,214.4 261.9,279.2 262.1,210.1 262.4,295.8 262.6,215.8 262.9,309.7 263.1,221.5 263.4,308.6 263.7,221.3 263.9,304.2 264.2,232.3 264.4,287.2 264.7,244.2 264.9,286.8 265.2,295.9 265.4,284.9 265.7,321.0 265.9,317.0 266.2,312.8 266.4,303.2 266.7,302.1 266.9,321.7 267.2,293.8 267.4,299.0 267.7,279.1 267.9,296.8 268.2,277.3 268.5,304.7 268.7,313.0 269.0,281.7 269.2,285.7 269.5,313.1 269.7,300.8 270.0,310.9 270.2,273.6 270.5,346.9 270.7,282.8 271.0,325.4 271.2,286.1 271.5,289.8 271.7,317.9 272.0,289.9 272.2,301.3 272.5,307.4 272.8,308.2 273.0,299.2 273.3,295.4 273.5,315.4 273.8,270.6 274.0,306.5 274.3,318.0 274.5,294.8 274.8,284.9 275.0,301.8 275.3,296.2 275.5,291.8 275.8,313.6 276.0,308.5 276.3,311.2 276.5,316.0 276.8,337.3 277.1,325.7 277.3,296.1 277.6,324.1 277.8,287.5 278.1,309.5 278.3,289.7 278.6,299.6 278.8,308.5 279.1,271.5 279.3,288.4 279.6,308.0 279.8,276.5 280.1,297.8 280.3,311.4 280.6,295.5 280.8,383.1 281.1,297.4 281.4,290.5 281.6,318.0 281.9,300.7 282.1,327.0 282.4,304.3 282.6,305.3 282.9,283.8 283.1,295.8 283.4,322.7 283.6,302.7 283.9,306.9 284.1,305.0 284.4,311.6 284.6,313.6 284.9,313.2 285.1,288.1 285.4,280.5 285.7,308.7 285.9,328.5 286.2,306.9 286.4,302.5 286.7,305.6 286.9,300.5 287.2,310.1 287.4,287.9 287.7,325.1 287.9,284.0 288.2,304.9 288.4,306.9 288.7,302.4 288.9,306.0 289.2,307.9 289.4,303.6 289.7,298.4 290.0,321.8 290.2,295.0 290.5,301.2 290.7,321.7 291.0,315.6 291.2,284.7 291.5,282.0 291.7,305.0 292.0,326.5 292.2,308.5 292.5,303.0 292.7,305.4 293.0,305.4 293.2,297.3 293.5,303.5 293.7,323.9 294.0,324.3 294.3,293.1 294.5,306.8 294.8,307.8 295.0,300.5 295.3,296.8 295.5,319.2 295.8,322.2 296.0,276.3 296.3,315.3 296.5,310.8 296.8,309.4 297.0,320.7 297.3,294.7 297.5,315.3 297.8,297.7 298.0,302.4 298.3,286.5 298.6,279.2 298.8,303.1 299.1,284.2 299.3,300.0 299.6,314.7 299.8,299.4 300.1,294.6 300.3,297.6 300.6,299.2 300.8,310.7 301.1,284.3 301.3,285.1 301.6,295.1 301.8,329.9 302.1,287.7 302.3,313.5 302.6,305.0 302.9,283.4 303.1,317.5 303.4,280.5 303.6,293.6 303.9,315.3 304.1,297.2 304.4,296.6 304.6,303.1 304.9,290.6 305.1,292.0 305.4,331.0 305.6,286.3 305.9,278.2 306.1,328.5 306.4,312.7 306.6,298.6 306.9,289.6 307.2,299.8 307.4,285.3 307.7,317.9 307.9,330.7 308.2,288.0 308.4,290.0 308.7,307.1 308.9,320.7 309.2,323.1 309.4,308.6 309.7,314.3 309.9,342.4 310.2,313.4 310.4,321.5 310.7,319.8 310.9,295.9 311.2,295.1 311.5,295.2 311.7,304.3 312.0,316.6 312.2,334.7 312.5,299.5 312.7,319.1 313.0,318.2 313.2,307.0 313.5,306.6 313.7,290.0 314.0,273.2 314.2,319.8 314.5,310.2 314.7,288.9 315.0,299.5 315.2,304.0 315.5,305.2 315.8,290.3 316.0,317.2 316.3,325.1 316.5,304.3 316.8,304.4 317.0,357.7 317.3,295.3 317.5,302.0 317.8,292.7 318.0,288.4 318.3,302.8 318.5,301.9 318.8,306.0 319.0,277.2 319.3,303.0 319.5,320.9 319.8,309.8 320.1,316.2 320.3,294.6 320.6,289.6 320.8,308.8 321.1,313.2 321.3,305.8 321.6,320.2 321.8,310.2 322.1,294.1 322.3,300.6 322.6,312.4 322.8,287.3 323.1,329.1 323.3,305.8 323.6,305.5 323.8,283.7 324.1,319.5 324.4,323.0 324.6,342.6 324.9,295.7 325.1,320.1 325.4,287.6 325.6,323.7 325.9,314.8 326.1,300.2 326.4,324.0 326.6,320.8 326.9,316.9 327.1,310.7 327.4,275.7 327.6,298.7 327.9,320.5 328.1,321.0 328.4,297.5 328.6,315.6 328.9,320.8 329.2,335.6 329.4,315.9 329.7,291.1 329.9,326.4 330.2,285.3 330.4,290.8 330.7,335.2 330.9,348.0 331.2,297.4 331.4,297.7 331.7,323.6 331.9,308.3 332.2,302.9 332.4,309.2 332.7,307.7 332.9,306.4 333.2,290.5 333.5,296.6 333.7,277.9 334.0,321.4 334.2,316.0 334.5,308.2 334.7,337.1 335.0,280.6 335.2,279.4 335.5,303.9 335.7,283.4 336.0,319.2 336.2,286.5 336.5,328.7 336.7,320.0 337.0,292.2 337.2,324.4 337.5,314.3 337.8,326.9 338.0,289.2 338.3,315.9 338.5,285.9 338.8,309.6 339.0,349.2 339.3,309.0 339.5,325.6 339.8,295.6 340.0,311.5 340.3,323.3 340.5,297.5 340.8,299.5 341.0,298.1 341.3,305.5 341.5,315.4 341.8,296.3 342.1,305.7 342.3,300.7 342.6,288.3 342.8,281.6 343.1,318.6 343.3,338.2 343.6,300.2 343.8,303.4 344.1,300.7 344.3,314.3 344.6,302.1 344.8,311.7 345.1,301.0 345.3,326.8 345.6,303.2 345.8,307.7 346.1,268.3 346.4,294.3 346.6,294.0 346.9,291.6 347.1,280.3 347.4,290.0 347.6,291.9 347.9,311.0 348.1,321.7 348.4,268.6 348.6,322.0 348.9,313.6 349.1,284.3 349.4,293.7 349.6,294.5 349.9,312.1 350.1,289.3 350.4,316.1 350.7,304.1 350.9,303.4 351.2,302.4 351.4,322.5 351.7,305.2 351.9,294.3 352.2,291.7 352.4,318.4 352.7,312.6 352.9,339.0 353.2,312.4 353.4,295.4 353.7,318.5 353.9,295.8 354.2,314.8 354.4,275.6 354.7,311.2 355.0,307.9 355.2,278.2 355.5,313.0 355.7,325.3 356.0,288.1 356.2,279.3 356.5,310.5 356.7,316.0 357.0,339.3 357.2,321.9 357.5,314.6 357.7,320.2 358.0,321.4 358.2,312.9 358.5,283.8 358.7,307.2 359.0,309.3 359.3,295.4 359.5,302.6 359.8,280.0 360.0,286.7 360.3,316.9 360.5,303.1 360.8,314.0 361.0,304.3 361.3,314.2 361.5,303.1 361.8,287.1 362.0,306.4 362.3,326.0 362.5,304.4 362.8,307.9 363.0,278.2 363.3,320.9 363.6,291.8 363.8,372.0 364.1,291.9 364.3,300.8 364.6,310.1 364.8,323.8 365.1,277.9 365.3,316.8 365.6,308.5 365.8,304.3 366.1,289.1 366.3,318.0 366.6,308.2 366.8,290.5 367.1,283.4 367.3,292.6 367.6,300.2 367.9,328.5 368.1,321.9 368.4,289.6 368.6,296.1 368.9,306.5 369.1,281.8 369.4,294.5 369.6,311.1 369.9,296.2 370.1,291.9 370.4,311.3 370.6,295.6 370.9,309.0 371.1,303.8 371.4,314.7 371.6,304.2 371.9,293.4 372.2,294.7 372.4,268.9 372.7,292.4 372.9,315.3 373.2,310.5 373.4,303.4 373.7,282.7 373.9,286.1 374.2,281.1 374.4,320.5 374.7,321.1 374.9,316.2 375.2,326.6 375.4,303.8 375.7,285.2 375.9,309.0 376.2,312.8 376.5,290.5 376.7,324.6 377.0,346.9 377.2,308.2 377.5,293.6 377.7,325.5 378.0,306.8 378.2,304.3 378.5,299.2 378.7,293.8 379.0,323.2 379.2,298.7 379.5,306.1 379.7,289.9 380.0,296.8 380.2,307.1 380.5,306.3 380.8,309.4 381.0,293.0 381.3,312.5 381.5,339.1 381.8,298.2 382.0,291.3 382.3,331.1 382.5,320.6 382.8,301.3 383.0,305.2 383.3,314.7 383.5,310.7 383.8,296.6 384.0,288.4 384.3,294.0 384.5,300.7 384.8,309.1 385.1,300.3 385.3,303.5 385.6,287.5 385.8,291.2 386.1,303.0 386.3,303.2 386.6,329.4 386.8,301.5 387.1,301.4 387.3,308.2 387.6,323.4 387.8,315.0 388.1,317.6 388.3,316.2 388.6,288.8 388.8,296.2 389.1,305.6 389.4,282.1 389.6,313.9 389.9,307.3 390.1,312.7 390.4,310.1 390.6,308.9 390.9,310.1 391.1,266.2 391.4,311.8 391.6,299.9 391.9,301.1 392.1,298.5 392.4,301.3 392.6,310.2 392.9,307.6 393.1,293.9 393.4,308.4 393.6,317.7 393.9,309.4 394.2,267.5 394.4,298.8 394.7,289.8 394.9,302.1 395.2,328.6 395.4,291.9 395.7,302.4 395.9,317.3 396.2,316.0 396.4,287.6 396.7,297.9 396.9,295.1 397.2,289.6 397.4,325.8 397.7,302.0 397.9,295.6 398.2,308.3 398.5,298.9 398.7,352.3 399.0,298.5 399.2,325.4 399.5,311.7 399.7,294.4 400.0,272.9 400.2,303.3 400.5,302.9 400.7,290.5 401.0,303.8 401.2,291.1 401.5,293.6 401.7,322.4 402.0,304.4 402.2,286.6 402.5,294.5 402.8,279.8 403.0,297.1 403.3,296.8 403.5,303.5 403.8,308.0 404.0,307.1 404.3,309.5 404.5,306.8 404.8,304.6 405.0,302.3 405.3,285.4 405.5,294.2 405.8,290.6 406.0,338.3 406.3,309.2 406.5,319.2 406.8,326.8 407.1,318.9 407.3,300.8 407.6,329.0 407.8,326.8 408.1,282.3 408.3,294.8 408.6,308.5 408.8,299.2 409.1,299.5 409.3,306.9 409.6,317.8 409.8,323.5 410.1,278.4 410.3,307.3 410.6,340.5 410.8,317.3 411.1,313.2 411.4,319.2 411.6,288.1 411.9,334.1 412.1,325.4 412.4,318.8 412.6,293.5 412.9,324.3 413.1,321.7 413.4,317.5 413.6,304.0 413.9,324.7 414.1,320.4 414.4,324.8 414.6,320.2 414.9,286.8 415.1,305.6 415.4,313.1 415.7,305.7 415.9,329.6 416.2,334.7 416.4,307.6 416.7,312.8 416.9,319.5 417.2,335.2 417.4,313.0 417.7,297.9 417.9,320.5 418.2,291.1 418.4,300.1 418.7,320.5 418.9,296.8 419.2,298.8 419.4,308.7 419.7,303.8 420.0,321.8 420.2,300.4 420.5,277.7 420.7,310.7 421.0,318.2 421.2,324.2 421.5,359.0 421.7,299.2 422.0,308.2 422.2,303.2 422.5,321.6 422.7,315.5 423.0,310.3 423.2,303.9 423.5,295.7 423.7,298.2 424.0,329.3 424.3,293.5 424.5,297.8 424.8,312.6 425.0,306.3 425.3,298.7 425.5,284.2 425.8,296.5 426.0,293.2 426.3,295.0 426.5,298.8 426.8,294.0 427.0,278.8 427.3,315.2 427.5,298.0 427.8,318.7 428.0,280.9 428.3,299.2 428.6,310.6 428.8,299.4 429.1,295.4 429.3,291.7 429.6,387.9 429.8,303.1 430.1,305.7 430.3,307.9 430.6,322.4 430.8,285.0 431.1,291.0 431.3,322.3 431.6,305.1 431.8,316.9 432.1,295.2 432.3,315.8 432.6,312.5 432.9,310.6 433.1,301.7 433.4,317.7 433.6,301.7 433.9,300.2 434.1,276.6 434.4,311.0 434.6,303.4 434.9,306.6 435.1,321.9 435.4,313.1 435.6,294.6 435.9,271.2 436.1,330.4 436.4,298.2 436.6,291.9 436.9,285.9 437.2,274.2 437.4,281.6 437.7,281.7 437.9,327.9 438.2,314.2 438.4,302.6 438.7,312.5 438.9,295.9 439.2,316.1 439.4,325.4 439.7,313.5 439.9,324.1 440.2,334.1 440.4,301.5 440.7,312.2 440.9,313.6 441.2,319.6 441.5,295.4 441.7,305.4 442.0,310.1 442.2,316.8 442.5,300.8 442.7,302.5 443.0,290.0 443.2,317.9 443.5,293.4 443.7,307.6 444.0,370.1 444.2,304.8 444.5,286.2 444.7,297.9 445.0,317.8 445.2,307.5 445.5,309.4 445.8,339.3 446.0,300.5 446.3,300.8 446.5,311.2 446.8,289.9 447.0,296.5 447.3,347.0 447.5,307.2 447.8,284.3 448.0,309.0 448.3,276.3 448.5,301.8 448.8,285.3 449.0,321.0 449.3,309.5 449.5,312.2 449.8,319.1 450.1,273.3 450.3,296.0 450.6,303.0 450.8,302.2 451.1,279.3 451.3,279.8 451.6,294.9 451.8,294.1 452.1,317.6 452.3,296.4 452.6,291.7 452.8,306.0 453.1,334.1 453.3,319.3 453.6,309.2 453.8,302.1 454.1,319.2 454.3,294.6 454.6,322.4 454.9,274.1 455.1,296.9 455.4,289.5 455.6,308.5 455.9,302.7 456.1,327.2 456.4,318.3 456.6,304.5 456.9,309.0 457.1,308.8 457.4,301.3 457.6,296.2 457.9,321.7 458.1,293.2 458.4,284.2 458.6,323.1 458.9,331.2 459.2,297.3 459.4,317.8 459.7,301.7 459.9,304.7 460.2,307.2 460.4,305.3 460.7,291.0 460.9,309.3 461.2,290.4 461.4,308.7 461.7,313.5 461.9,278.9 462.2,309.4 462.4,304.4 462.7,308.5 462.9,313.4 463.2,313.4 463.5,294.6 463.7,305.4 464.0,281.1 464.2,292.1 464.5,304.9 464.7,319.3 465.0,315.2 465.2,305.4 465.5,290.8 465.7,308.5 466.0,312.2 466.2,286.6 466.5,313.0 466.7,320.0 467.0,294.6 467.2,295.4 467.5,318.0 467.8,301.0 468.0,293.4 468.3,324.2 468.5,313.8 468.8,313.0 469.0,302.7 469.3,309.2 469.5,298.5 469.8,310.6 470.0,328.3 470.3,309.2 470.5,312.9 470.8,283.0 471.0,284.9 471.3,290.4 471.5,352.3 471.8,298.0 472.1,324.7 472.3,298.8 472.6,285.1 472.8,313.1 473.1,296.8 473.3,308.5 473.6,293.5 473.8,301.2 474.1,297.1 474.3,264.0 474.6,303.9 474.8,330.0 475.1,318.2 475.3,377.7 475.6,305.8 475.8,323.9 476.1,281.9 476.4,316.1 476.6,283.5 476.9,307.4 477.1,322.5 477.4,308.2 477.6,278.2 477.9,295.9 478.1,302.6 478.4,298.7 478.6,295.7 478.9,294.1 479.1,288.2 479.4,296.4 479.6,289.0 479.9,304.3 480.1,319.4 480.4,295.1 480.7,314.6 480.9,303.4 481.2,296.0 481.4,306.1 481.7,302.5 481.9,294.2 482.2,303.1 482.4,305.7 482.7,297.5 482.9,321.1 483.2,290.1 483.4,323.6 483.7,304.5 483.9,309.1 484.2,316.8 484.4,305.4 484.7,292.2 485.0,299.6 485.2,300.1 485.5,307.1 485.7,279.7 486.0,305.2 486.2,300.9 486.5,302.1 486.7,314.9 487.0,286.3 487.2,304.4 487.5,286.2 487.7,287.6 488.0,309.6 488.2,295.7 488.5,315.0 488.7,309.0 489.0,314.4 489.3,320.1 489.5,340.1 489.8,289.7 490.0,281.6 490.3,312.0 490.5,285.6 490.8,293.7 491.0,335.2 491.3,293.3 491.5,321.3 491.8,320.9 492.0,296.5 492.3,314.6 492.5,317.6 492.8,259.4 493.0,311.5 493.3,324.8 493.6,300.9 493.8,304.8 494.1,295.4 494.3,276.9 494.6,337.3 494.8,327.3 495.1,283.4 495.3,289.3 495.6,305.1 495.8,309.2 496.1,290.2 496.3,271.2 496.6,283.8 496.8,310.7 497.1,359.9 497.3,329.9 497.6,321.8 497.9,311.7 498.1,324.5 498.4,297.3 498.6,293.3 498.9,288.0 499.1,313.3 499.4,298.2 499.6,282.6 499.9,299.7 500.1,280.3 500.4,302.2 500.6,313.0 500.9,280.2 501.1,305.6 501.4,292.8 501.6,347.8 501.9,309.0 502.2,306.5 502.4,288.0 502.7,286.3 502.9,306.0 503.2,330.7 503.4,334.2 503.7,323.8 503.9,308.7 504.2,292.1 504.4,288.9 504.7,297.6 504.9,321.3 505.2,298.7 505.4,284.6 505.7,322.6 505.9,307.0 506.2,292.7 506.5,320.5 506.7,302.4 507.0,311.2 507.2,299.0 507.5,305.9 507.7,312.8 508.0,292.3 508.2,320.7 508.5,315.0 508.7,298.5 509.0,313.0 509.2,298.1 509.5,286.5 509.7,329.0 510.0,321.4 510.2,283.1 510.5,292.0 510.8,304.7"/>
<line x1="303.6" y1="57.4" x2="331" y2="57.4" stroke="#4472c4" stroke-width="2.2"/>
<text class="lg" x="334.6" y="60.7" textLength="71.4" lengthAdjust="spacingAndGlyphs">Conventional</text>
<line x1="415.9" y1="57.4" x2="443.2" y2="57.4" stroke="#ed7d31" stroke-width="2.2"/>
<text class="lg" x="446.8" y="60.7" textLength="49.5" lengthAdjust="spacingAndGlyphs">Morphed</text>
<text class="at" x="240.2" y="425.2" textLength="82" lengthAdjust="spacingAndGlyphs">Frequency (Hz)</text>
<text class="at2" transform="translate(25.2,243.1) rotate(-90)" textLength="43.5" lengthAdjust="spacingAndGlyphs">SPL (dB)</text>
<text class="cap" x="275.15" y="466.5" text-anchor="middle">(<tspan font-weight="bold">e</tspan>)</text>
</svg>
</body></html>
